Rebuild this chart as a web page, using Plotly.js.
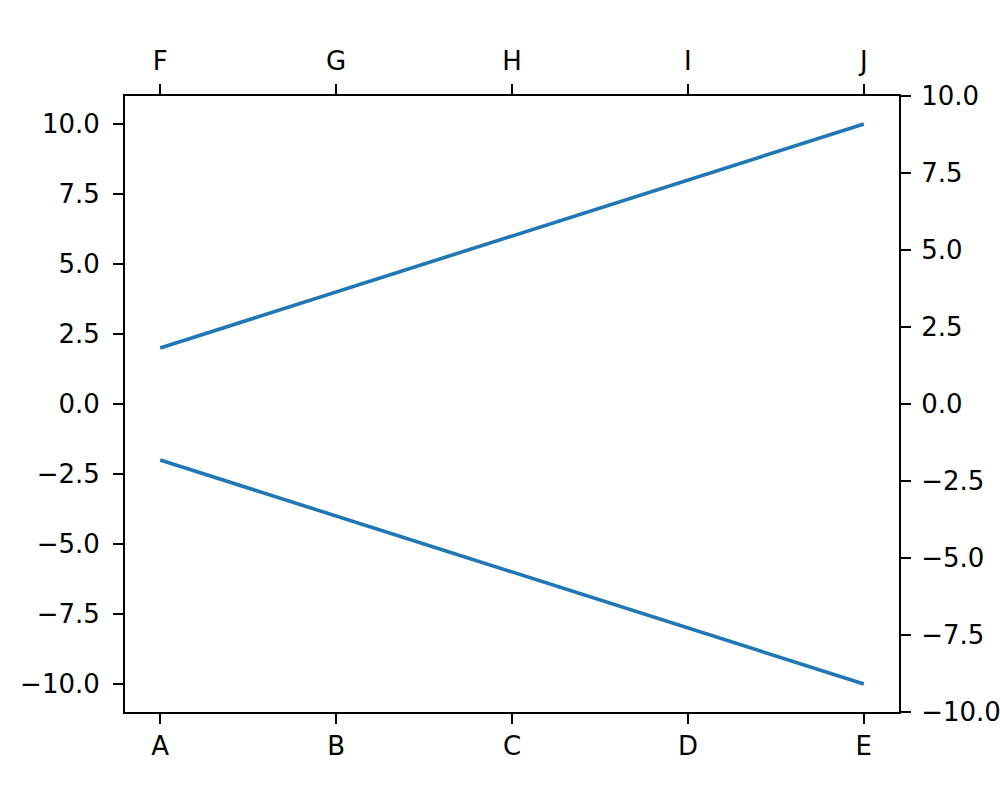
<!DOCTYPE html>
<html>
<head>
<meta charset="utf-8">
<script src="https://cdn.plot.ly/plotly-3.0.1.min.js"></script>
<style>html,body{margin:0;padding:0;background:#fff;}#chart{width:1000px;height:800px;}</style>
</head>
<body>
<div id="chart"></div>
<script>
const bottomLabels = ["A", "B", "C", "D", "E"];
const topLabels = ["F", "G", "H", "I", "J"];
const risingValues = [2, 4, 6, 8, 10];
const fallingValues = [-2, -4, -6, -8, -10];
const yTicks = [-10, -7.5, -5, -2.5, 0, 2.5, 5, 7.5, 10];

const idx = bottomLabels.map((_, i) => i);
const color = "#1f77b4";

const traces = [
  {x: idx, y: risingValues, type: "scatter", mode: "lines", line: {color: color, width: 3.6}, xaxis: "x", yaxis: "y", hoverinfo: "skip"},
  {x: idx, y: fallingValues, type: "scatter", mode: "lines", line: {color: color, width: 3.6}, xaxis: "x", yaxis: "y", hoverinfo: "skip"},
  {x: [], y: [], type: "scatter", mode: "lines", xaxis: "x2", yaxis: "y2", showlegend: false, hoverinfo: "skip"}
];

const axCommon = {
  showgrid: false, zeroline: false, showline: true, linecolor: "black", linewidth: 2,
  ticks: "outside", ticklen: 10, tickwidth: 2, tickcolor: "black",
  tickfont: {family: "DejaVu Sans", size: 26, color: "black"}
};

const layout = {
  width: 1000, height: 800,
  margin: {l: 125, r: 101, t: 96, b: 88},
  paper_bgcolor: "white", plot_bgcolor: "white",
  showlegend: false,
  xaxis: Object.assign({}, axCommon, {range: [-0.2, 4.2], tickmode: "array", tickvals: idx, ticktext: bottomLabels, side: "bottom", ticklabelstandoff: 0}),
  xaxis2: Object.assign({}, axCommon, {range: [-0.2, 4.2], tickmode: "array", tickvals: idx, ticktext: topLabels, side: "top", overlaying: "x", ticklabelstandoff: 4}),
  yaxis: Object.assign({}, axCommon, {range: [-11, 11], tickmode: "array", tickvals: yTicks, tickformat: ".1f", side: "left", ticklabelstandoff: 8}),
  yaxis2: Object.assign({}, axCommon, {range: [-10, 10], tickmode: "array", tickvals: yTicks, tickformat: ".1f", side: "right", overlaying: "y", ticklabelstandoff: 5})
};

Plotly.newPlot("chart", traces, layout, {displayModeBar: false, staticPlot: true});
</script>
</body>
</html>
